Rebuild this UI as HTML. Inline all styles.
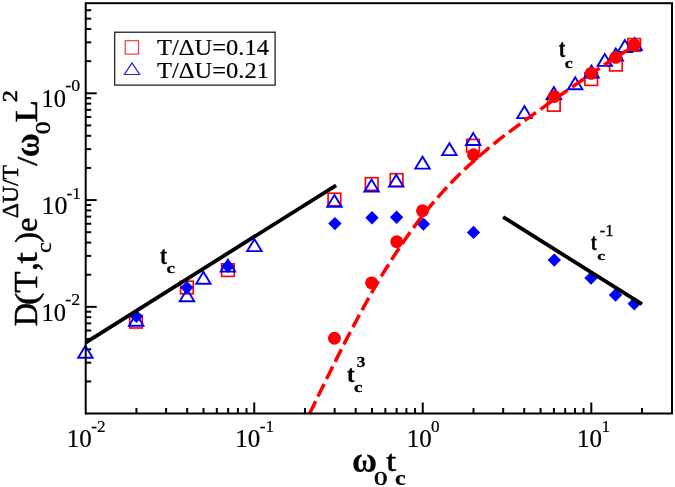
<!DOCTYPE html>
<html lang="en"><head><meta charset="utf-8"><title>D(T,tc) vs omega0 tc</title>
<style>html,body{margin:0;padding:0;background:#fff;}body{width:675px;height:487px;overflow:hidden;}svg{display:block;}text{font-family:"Liberation Serif", "DejaVu Serif", serif;fill:#000;stroke:#000;}</style>
</head><body>
<svg width="675" height="487" viewBox="0 0 675 487" stroke-width="0.2">
<rect x="0" y="0" width="675" height="487" fill="#fff"/>
<g stroke="#000" stroke-width="2" stroke-linecap="butt" fill="none">
<line x1="136.43" y1="413.50" x2="136.43" y2="408.00"/>
<line x1="166.11" y1="413.50" x2="166.11" y2="408.00"/>
<line x1="187.17" y1="413.50" x2="187.17" y2="408.00"/>
<line x1="203.50" y1="413.50" x2="203.50" y2="408.00"/>
<line x1="216.84" y1="413.50" x2="216.84" y2="408.00"/>
<line x1="228.12" y1="413.50" x2="228.12" y2="408.00"/>
<line x1="237.90" y1="413.50" x2="237.90" y2="408.00"/>
<line x1="246.52" y1="413.50" x2="246.52" y2="408.00"/>
<line x1="254.23" y1="413.50" x2="254.23" y2="402.50"/>
<line x1="304.96" y1="413.50" x2="304.96" y2="408.00"/>
<line x1="334.64" y1="413.50" x2="334.64" y2="408.00"/>
<line x1="355.70" y1="413.50" x2="355.70" y2="408.00"/>
<line x1="372.03" y1="413.50" x2="372.03" y2="408.00"/>
<line x1="385.37" y1="413.50" x2="385.37" y2="408.00"/>
<line x1="396.65" y1="413.50" x2="396.65" y2="408.00"/>
<line x1="406.43" y1="413.50" x2="406.43" y2="408.00"/>
<line x1="415.05" y1="413.50" x2="415.05" y2="408.00"/>
<line x1="422.76" y1="413.50" x2="422.76" y2="402.50"/>
<line x1="473.49" y1="413.50" x2="473.49" y2="408.00"/>
<line x1="503.17" y1="413.50" x2="503.17" y2="408.00"/>
<line x1="524.23" y1="413.50" x2="524.23" y2="408.00"/>
<line x1="540.56" y1="413.50" x2="540.56" y2="408.00"/>
<line x1="553.90" y1="413.50" x2="553.90" y2="408.00"/>
<line x1="565.18" y1="413.50" x2="565.18" y2="408.00"/>
<line x1="574.96" y1="413.50" x2="574.96" y2="408.00"/>
<line x1="583.58" y1="413.50" x2="583.58" y2="408.00"/>
<line x1="591.29" y1="413.50" x2="591.29" y2="402.50"/>
<line x1="642.02" y1="413.50" x2="642.02" y2="408.00"/>
<line x1="85.70" y1="381.47" x2="91.20" y2="381.47"/>
<line x1="85.70" y1="362.67" x2="91.20" y2="362.67"/>
<line x1="85.70" y1="349.33" x2="91.20" y2="349.33"/>
<line x1="85.70" y1="338.98" x2="91.20" y2="338.98"/>
<line x1="85.70" y1="330.53" x2="91.20" y2="330.53"/>
<line x1="85.70" y1="323.38" x2="91.20" y2="323.38"/>
<line x1="85.70" y1="317.19" x2="91.20" y2="317.19"/>
<line x1="85.70" y1="311.73" x2="91.20" y2="311.73"/>
<line x1="85.70" y1="306.84" x2="96.70" y2="306.84"/>
<line x1="85.70" y1="274.70" x2="91.20" y2="274.70"/>
<line x1="85.70" y1="255.90" x2="91.20" y2="255.90"/>
<line x1="85.70" y1="242.56" x2="91.20" y2="242.56"/>
<line x1="85.70" y1="232.21" x2="91.20" y2="232.21"/>
<line x1="85.70" y1="223.76" x2="91.20" y2="223.76"/>
<line x1="85.70" y1="216.61" x2="91.20" y2="216.61"/>
<line x1="85.70" y1="210.42" x2="91.20" y2="210.42"/>
<line x1="85.70" y1="204.96" x2="91.20" y2="204.96"/>
<line x1="85.70" y1="200.07" x2="96.70" y2="200.07"/>
<line x1="85.70" y1="167.93" x2="91.20" y2="167.93"/>
<line x1="85.70" y1="149.13" x2="91.20" y2="149.13"/>
<line x1="85.70" y1="135.79" x2="91.20" y2="135.79"/>
<line x1="85.70" y1="125.44" x2="91.20" y2="125.44"/>
<line x1="85.70" y1="116.99" x2="91.20" y2="116.99"/>
<line x1="85.70" y1="109.84" x2="91.20" y2="109.84"/>
<line x1="85.70" y1="103.65" x2="91.20" y2="103.65"/>
<line x1="85.70" y1="98.19" x2="91.20" y2="98.19"/>
<line x1="85.70" y1="93.30" x2="96.70" y2="93.30"/>
<line x1="85.70" y1="61.16" x2="91.20" y2="61.16"/>
<line x1="85.70" y1="42.36" x2="91.20" y2="42.36"/>
<line x1="85.70" y1="29.02" x2="91.20" y2="29.02"/>
<line x1="85.70" y1="18.67" x2="91.20" y2="18.67"/>
<line x1="85.70" y1="10.22" x2="91.20" y2="10.22"/>
</g>
<g fill="none" stroke="#f80808" stroke-width="1.7">
<rect x="129.7" y="315.4" width="12.6" height="12.6"/>
<rect x="180.6" y="281.2" width="12.6" height="12.6"/>
<rect x="221.6" y="263.8" width="12.6" height="12.6"/>
<rect x="328.1" y="193.2" width="12.6" height="12.6"/>
<rect x="365.4" y="177.7" width="12.6" height="12.6"/>
<rect x="390.3" y="173.7" width="12.6" height="12.6"/>
<rect x="466.7" y="139.4" width="12.6" height="12.6"/>
<rect x="547.5" y="98.5" width="12.6" height="12.6"/>
<rect x="584.9" y="72.8" width="12.6" height="12.6"/>
<rect x="609.6" y="58.3" width="12.6" height="12.6"/>
<rect x="627.9" y="38.6" width="12.6" height="12.6"/>
</g>
<g fill="none" stroke="#0000f0" stroke-width="1.9" stroke-linejoin="miter">
<path d="M85.4 345.8 L78.2 357.7 L92.6 357.7 Z"/>
<path d="M136.2 313.8 L129.0 325.7 L143.4 325.7 Z"/>
<path d="M187.0 289.3 L179.8 301.2 L194.2 301.2 Z"/>
<path d="M203.4 271.8 L196.2 283.7 L210.6 283.7 Z"/>
<path d="M227.9 259.7 L220.7 271.6 L235.1 271.6 Z"/>
<path d="M254.4 239.2 L247.2 251.1 L261.6 251.1 Z"/>
<path d="M334.4 194.9 L327.2 206.8 L341.6 206.8 Z"/>
<path d="M371.6 179.6 L364.4 191.5 L378.8 191.5 Z"/>
<path d="M396.2 174.7 L389.0 186.6 L403.4 186.6 Z"/>
<path d="M422.5 156.7 L415.3 168.6 L429.7 168.6 Z"/>
<path d="M449.4 143.2 L442.2 155.1 L456.6 155.1 Z"/>
<path d="M473.2 133.1 L466.0 145.0 L480.4 145.0 Z"/>
<path d="M524.4 106.2 L517.2 118.1 L531.6 118.1 Z"/>
<path d="M553.9 87.1 L546.7 99.0 L561.1 99.0 Z"/>
<path d="M575.2 77.3 L568.0 89.2 L582.4 89.2 Z"/>
<path d="M591.5 65.6 L584.3 77.5 L598.7 77.5 Z"/>
<path d="M604.8 54.0 L597.6 65.9 L612.0 65.9 Z"/>
<path d="M615.8 48.6 L608.6 60.5 L623.0 60.5 Z"/>
<path d="M624.9 40.1 L617.7 52.0 L632.1 52.0 Z"/>
<path d="M634.6 38.2 L627.4 50.1 L641.8 50.1 Z"/>
</g>
<g fill="#0000ff" stroke="none">
<path d="M136.4 309.7 L143.1 316.4 L136.4 323.1 L129.7 316.4 Z"/>
<path d="M186.9 280.9 L193.6 287.6 L186.9 294.3 L180.2 287.6 Z"/>
<path d="M227.9 259.5 L234.6 266.2 L227.9 272.9 L221.2 266.2 Z"/>
<path d="M334.9 216.9 L341.6 223.6 L334.9 230.3 L328.2 223.6 Z"/>
<path d="M372.0 211.0 L378.7 217.7 L372.0 224.4 L365.3 217.7 Z"/>
<path d="M396.6 210.6 L403.3 217.3 L396.6 224.0 L389.9 217.3 Z"/>
<path d="M423.4 217.4 L430.1 224.1 L423.4 230.8 L416.7 224.1 Z"/>
<path d="M473.5 225.7 L480.2 232.4 L473.5 239.1 L466.8 232.4 Z"/>
<path d="M554.3 253.4 L561.0 260.1 L554.3 266.8 L547.6 260.1 Z"/>
<path d="M591.0 271.3 L597.7 278.0 L591.0 284.7 L584.3 278.0 Z"/>
<path d="M615.5 288.3 L622.2 295.0 L615.5 301.7 L608.8 295.0 Z"/>
<path d="M634.3 297.1 L641.0 303.8 L634.3 310.5 L627.6 303.8 Z"/>
</g>
<g fill="#ff0000" stroke="none">
<circle cx="334.4" cy="338.3" r="6.45"/>
<circle cx="371.6" cy="282.9" r="6.45"/>
<circle cx="396.7" cy="241.8" r="6.45"/>
<circle cx="422.5" cy="210.8" r="6.45"/>
<circle cx="473.5" cy="154.7" r="6.45"/>
<circle cx="554.3" cy="96.5" r="6.45"/>
<circle cx="591.2" cy="73.4" r="6.45"/>
<circle cx="615.8" cy="57.4" r="6.45"/>
<circle cx="634.2" cy="44.9" r="6.45"/>
</g>
<path d="M309.4 413.9 L314.8 402.9 L320.2 391.8 L325.6 380.9 L331.0 369.9 L336.4 359.1 L341.8 348.4 L347.2 337.9 L352.7 327.5 L358.1 317.3 L363.5 307.4 L368.9 297.6 L374.3 288.2 L379.7 278.9 L385.1 270.0 L390.6 261.3 L396.0 252.9 L401.4 244.8 L406.8 237.0 L412.2 229.4 L417.6 222.1 L423.0 215.1 L428.5 208.3 L433.9 201.8 L439.3 195.6 L444.7 189.6 L450.1 183.8 L455.5 178.2 L460.9 172.9 L466.4 167.7 L471.8 162.7 L477.2 157.9 L482.6 153.2 L488.0 148.7 L493.4 144.2 L498.8 139.9 L504.3 135.7 L509.7 131.6 L515.1 127.6 L520.5 123.6 L525.9 119.7 L531.3 115.8 L536.7 111.9 L542.2 108.1 L547.6 104.2 L553.0 100.4 L558.4 96.6 L563.8 92.8 L569.2 89.0 L574.6 85.2 L580.1 81.5 L585.5 77.7 L590.9 74.0 L596.3 70.2 L601.7 66.6 L607.1 63.0 L612.5 59.4 L618.0 56.0 L623.4 52.6 L628.8 49.5 L634.2 46.4" fill="none" stroke="#ff0000" stroke-width="3.5" stroke-dasharray="14 5.4" stroke-linecap="butt" stroke-linejoin="round"/>
<g stroke="#000" stroke-width="3.8" stroke-linecap="butt">
<line x1="85.7" y1="342.6" x2="336.1" y2="185.3"/>
<line x1="503.1" y1="217" x2="642" y2="304.2"/>
</g>
<rect x="85.7" y="3.2" width="586.3" height="410.3" fill="none" stroke="#000" stroke-width="2"/>
<text transform="translate(66.8 446.8) scale(1.02 1)" font-size="24.5">10</text><text x="91.2" y="431.9" font-size="17.2">-2</text>
<text transform="translate(235.3 446.8) scale(1.02 1)" font-size="24.5">10</text><text x="259.7" y="431.9" font-size="17.2">-1</text>
<text transform="translate(406.7 446.8) scale(1.02 1)" font-size="24.5">10</text><text x="431.1" y="431.9" font-size="17.2">0</text>
<text transform="translate(577.0 446.8) scale(1.02 1)" font-size="24.5">10</text><text x="601.4" y="431.9" font-size="17.2">1</text>
<text transform="translate(41.4 107.1) scale(1.0 1)" font-size="24.5">10</text><text transform="translate(65.2 91.4) scale(1.04 1)" font-size="17.2">-0</text>
<text transform="translate(41.6 213.9) scale(1.06 1)" font-size="24.5">10</text><text x="66.5" y="199.4" font-size="17.2">-1</text>
<text transform="translate(41.4 320.6) scale(1.0 1)" font-size="24.5">10</text><text transform="translate(65.2 304.9) scale(1.04 1)" font-size="17.2">-2</text>
<rect x="114.7" y="32.2" width="160.4" height="52.9" fill="#fff" stroke="#111" stroke-width="1.2"/>
<rect x="125.2" y="40.7" width="13.4" height="13.4" fill="none" stroke="#f03030" stroke-width="1.1"/>
<path d="M132 62.8 L124.4 74.5 L139.6 74.5 Z" fill="none" stroke="#2020f0" stroke-width="1.2"/>
<text transform="translate(156.9 55.1) scale(1.035 1)" font-size="23.7">T/ΔU=0.14</text>
<text transform="translate(156.9 78.2) scale(1.035 1)" font-size="23.7">T/ΔU=0.21</text>
<text transform="translate(159.91 263.71) scale(0.851 1)" font-size="24.44" font-weight="bold" stroke-width="0.3">t</text>
<text transform="translate(166.40 273.32) scale(1.321 1)" font-size="14.36" font-weight="bold" stroke-width="0.3">c</text>
<text transform="translate(558.73 57.31) scale(0.806 1)" font-size="24.62" font-weight="bold" stroke-width="0.3">t</text>
<text transform="translate(564.74 67.92) scale(1.249 1)" font-size="14.36" font-weight="bold" stroke-width="0.3">c</text>
<text transform="translate(590.76 250.12) scale(0.768 1)" font-size="23.74" font-weight="bold" stroke-width="0.3">t</text>
<text transform="translate(597.24 260.43) scale(1.368 1)" font-size="13.11" font-weight="bold" stroke-width="0.3">c</text>
<text transform="translate(599.63 235.65) scale(1.022 1)" font-size="16.36" stroke-width="0.3">-1</text>
<text transform="translate(346.88 381.62) scale(0.971 1)" font-size="23.40" font-weight="bold" stroke-width="0.3">t</text>
<text transform="translate(353.99 391.71) scale(1.301 1)" font-size="14.78" font-weight="bold" stroke-width="0.3">c</text>
<text transform="translate(356.71 367.21) scale(1.169 1)" font-size="14.59" font-weight="bold" stroke-width="0.3">3</text>
<text transform="translate(351.91 472.44) scale(0.931 1)" font-size="36.84" font-weight="bold" stroke-width="0.2">ω</text>
<text transform="translate(374.08 485.12) scale(1.429 1)" font-size="18.82" stroke-width="0.5">0</text>
<text transform="translate(386.15 471.12) scale(1.231 1)" font-size="28.81" stroke-width="0.5">t</text>
<text transform="translate(394.97 484.61) scale(1.161 1)" font-size="20.81" font-weight="bold" stroke-width="0.2">c</text>
<g transform="translate(36.9 326) rotate(-90)">
<text transform="translate(-0.13 0.34) scale(0.977 1)" font-size="33.04" stroke-width="0.5">D</text>
<text transform="translate(20.97 -0.11) scale(1.157 1)" font-size="31.98" stroke-width="0.5">(</text>
<text transform="translate(33.27 0.10) scale(1.067 1)" font-size="32.68" stroke-width="0.5">T</text>
<text transform="translate(55.02 -0.39) scale(0.931 1)" font-size="38.94" stroke-width="0.5">,</text>
<text transform="translate(62.51 0.18) scale(1.232 1)" font-size="32.82" stroke-width="0.5">t</text>
<text transform="translate(73.08 13.60) scale(1.203 1)" font-size="20.17" stroke-width="0.3">c</text>
<text transform="translate(83.36 0.07) scale(0.991 1)" font-size="32.53" stroke-width="0.5">)e</text>
<text transform="translate(107.80 -19.32) scale(1.066 1)" font-size="22.09" stroke-width="0.5">ΔU/T</text>
<text transform="translate(160.20 -0.09) scale(1.094 1)" font-size="29.60" stroke-width="0.5">/</text>
<text transform="translate(168.67 1.75) scale(0.910 1)" font-size="36.01" font-weight="bold" stroke-width="0.2">ω</text>
<text transform="translate(191.73 13.40) scale(1.264 1)" font-size="20.15" stroke-width="0.5">0</text>
<text transform="translate(203.54 0.50) scale(1.152 1)" font-size="31.92" stroke-width="0.5">L</text>
<text transform="translate(223.73 -19.50) scale(1.124 1)" font-size="21.75" stroke-width="0.5">2</text>
</g>
</svg>
</body></html>
